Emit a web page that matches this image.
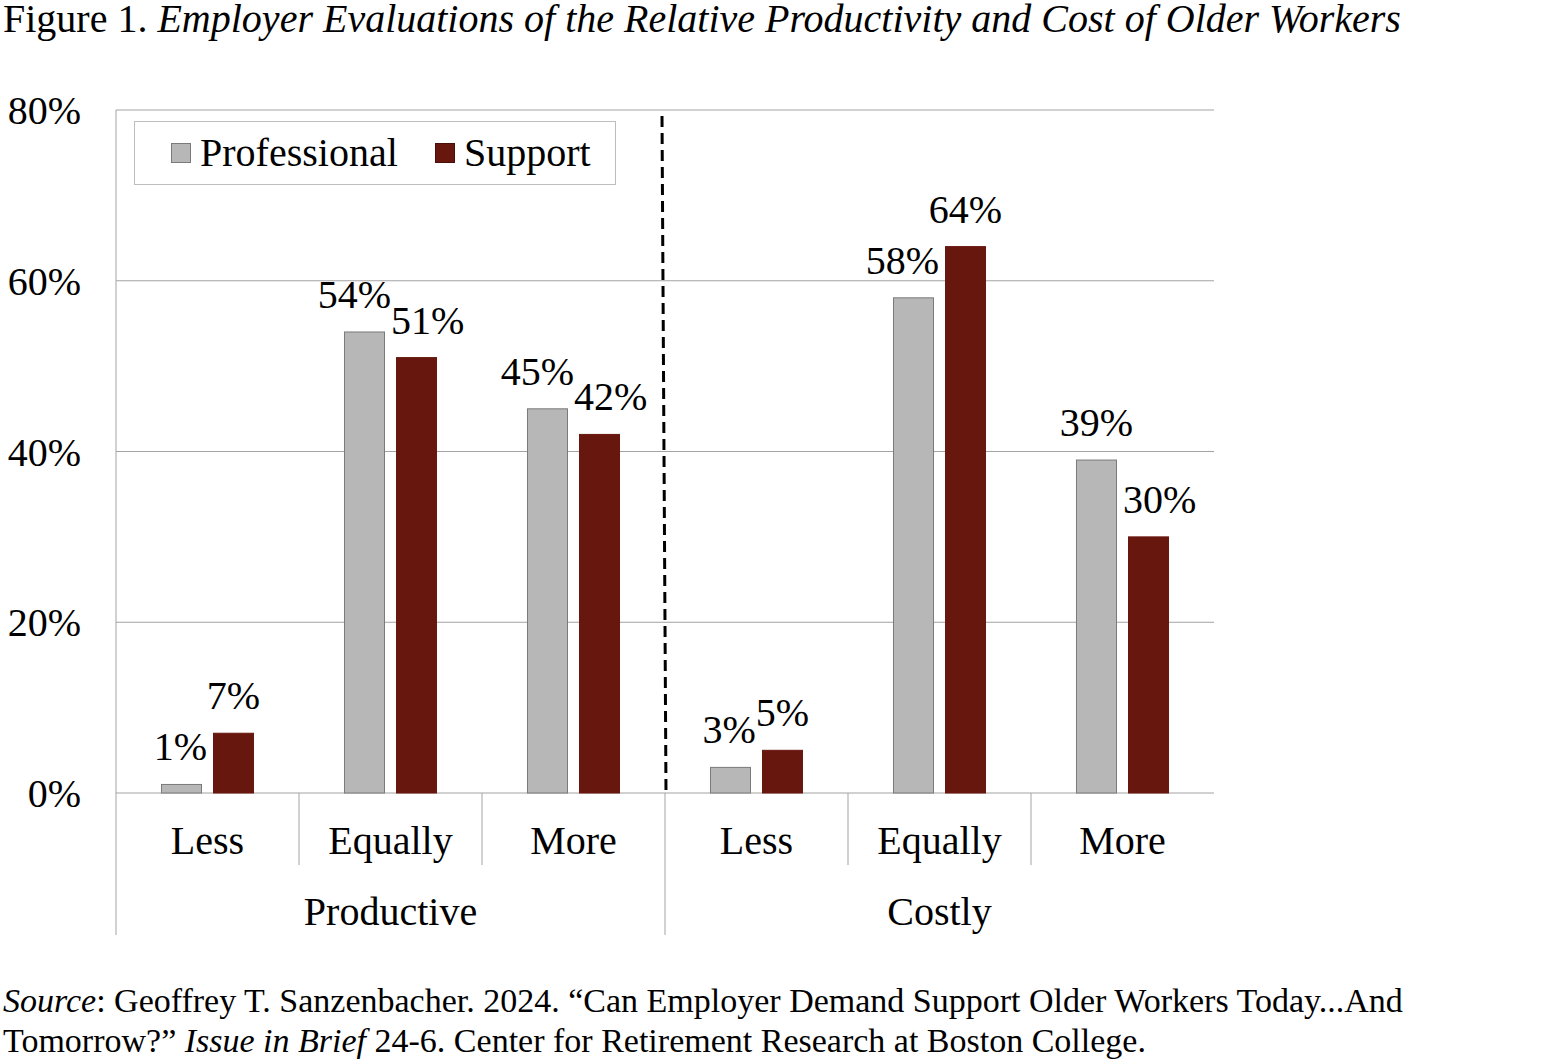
<!DOCTYPE html>
<html>
<head>
<meta charset="utf-8">
<script src="https://cdn.jsdelivr.net/npm/d3@7"></script>
<style>
  body { margin: 0; background: #fff; }
  svg { display: block; font-family: "Liberation Serif", "Times New Roman", serif; }
</style>
</head>
<body>
<div id="chart"></div>
<script>
// Dados
const groups = ["Productive", "Costly"];
const levels = ["Less", "Equally", "More"];
const series = ["Professional", "Support"];
const professional = [1, 54, 45, 3, 58, 39];
const support = [7, 51, 42, 5, 64, 30];
const yTicks = [0, 20, 40, 60, 80];

const width = 1568;
const height = 1064;
const margin = { left: 116, right: 354, top: 110, bottom: 271 };
const fs = 40;

const colors = { Professional: "#b7b7b7", Support: "#68170f" };
const strokes = { Professional: "#7a7a7a", Support: "#68170f" };

const svg = d3
  .select("#chart")
  .append("svg")
  .attr("width", width)
  .attr("height", height);

// Título
const title = svg.append("text").attr("x", 3).attr("y", 32).attr("font-size", 40);
title.append("tspan").text("Figure 1. ");
title
  .append("tspan")
  .attr("font-style", "italic")
  .text("Employer Evaluations of the Relative Productivity and Cost of Older Workers");

// Escalas
const cats = [];
groups.forEach((g) => levels.forEach((l) => cats.push(g + "|" + l)));

const x0 = d3
  .scaleBand()
  .domain(cats)
  .range([margin.left, width - margin.right])
  .padding(0);

const x1 = d3
  .scaleBand()
  .domain(series)
  .range([0, x0.bandwidth()])
  .paddingInner(11 / 52)
  .paddingOuter(0.865);

const y = d3
  .scaleLinear()
  .domain([0, 80])
  .range([height - margin.bottom, margin.top]);

const y0 = y(0);

// Grade
svg
  .append("g")
  .selectAll("line")
  .data(yTicks)
  .join("line")
  .attr("x1", margin.left)
  .attr("x2", width - margin.right)
  .attr("y1", (d) => y(d))
  .attr("y2", (d) => y(d))
  .attr("stroke", "#a3a3a3")
  .attr("stroke-width", 1);

// Eixo y (linha vertical esquerda)
svg
  .append("line")
  .attr("x1", margin.left)
  .attr("x2", margin.left)
  .attr("y1", y(80))
  .attr("y2", 935)
  .attr("stroke", "#a3a3a3");

// Rótulos y
svg
  .append("g")
  .selectAll("text")
  .data(yTicks)
  .join("text")
  .attr("x", 81)
  .attr("y", (d) => y(d))
  .attr("dy", "0.35em")
  .attr("text-anchor", "end")
  .attr("font-size", fs)
  .text((d) => d + "%");

// Separadores das categorias
const sepX = cats.slice(1).map((c) => x0(c));
svg
  .append("g")
  .selectAll("line")
  .data(sepX)
  .join("line")
  .attr("x1", (d) => d)
  .attr("x2", (d) => d)
  .attr("y1", y0)
  .attr("y2", (d, i) => (i === 2 ? 935 : 865))
  .attr("stroke", "#a3a3a3");

// Linha tracejada entre grupos
const midX = x0(cats[3]);
svg
  .append("line")
  .attr("x1", midX - 3)
  .attr("x2", midX + 1)
  .attr("y1", y(80) + 6)
  .attr("y2", y0)
  .attr("stroke", "#000")
  .attr("stroke-width", 3)
  .attr("stroke-dasharray", "11 6");

// Barras
const bars = [];
cats.forEach((c, i) => {
  bars.push({ cat: c, s: "Professional", v: professional[i], idx: i });
  bars.push({ cat: c, s: "Support", v: support[i], idx: i });
});

svg
  .append("g")
  .selectAll("rect")
  .data(bars)
  .join("rect")
  .attr("x", (d) => x0(d.cat) + x1(d.s) + 0.5)
  .attr("y", (d) => y(d.v))
  .attr("width", x1.bandwidth() - 1)
  .attr("height", (d) => y0 - y(d.v))
  .attr("fill", (d) => colors[d.s])
  .attr("stroke", (d) => strokes[d.s])
  .attr("stroke-width", 1);

// Rótulos de valor, com ajuste para evitar sobreposição
const labelG = svg.append("g").attr("font-size", fs).attr("text-anchor", "middle");
cats.forEach((c, i) => {
  const items = series.map((s, k) => {
    const v = k === 0 ? professional[i] : support[i];
    const bx = x0(c) + x1(s);
    const t = labelG.append("text").text(v + "%");
    const w = t.node().getComputedTextLength();
    return { t, v, bx, bw: x1.bandwidth(), w, cx: bx + x1.bandwidth() / 2, base: y(v) - 24 };
  });
  const [p, s] = items;
  const tall = p.v >= s.v ? p : s;
  const short = tall === p ? s : p;
  // rótulo da barra menor não pode cobrir a barra maior
  if (short.base > y(tall.v)) {
    if (short === s && short.cx - short.w / 2 < tall.bx + tall.bw + 6) {
      short.cx = tall.bx + tall.bw + 6 + short.w / 2;
    } else if (short === p && short.cx + short.w / 2 > tall.bx - 6) {
      short.cx = tall.bx - 6 - short.w / 2;
    }
  }
  // rótulos não podem se sobrepor: empurra o da esquerda
  if (Math.abs(p.base - s.base) < 29 && p.cx + p.w / 2 > s.cx - s.w / 2) {
    p.cx = s.cx - s.w / 2 - p.w / 2;
  }
  items.forEach((d) => d.t.attr("x", d.cx).attr("y", d.base));
});

// Rótulos das categorias
svg
  .append("g")
  .selectAll("text")
  .data(cats)
  .join("text")
  .attr("x", (d) => x0(d) + x0.bandwidth() / 2)
  .attr("y", 854)
  .attr("text-anchor", "middle")
  .attr("font-size", fs)
  .text((d) => d.split("|")[1]);

svg
  .append("g")
  .selectAll("text")
  .data(groups)
  .join("text")
  .attr("x", (g, i) => (x0(cats[i * 3]) + x0(cats[i * 3 + 2]) + x0.bandwidth()) / 2)
  .attr("y", 925)
  .attr("text-anchor", "middle")
  .attr("font-size", fs)
  .text((d) => d);

// Legenda
const legend = svg.append("g");
legend
  .append("rect")
  .attr("x", 134.5)
  .attr("y", 121.5)
  .attr("width", 481)
  .attr("height", 63)
  .attr("fill", "#fff")
  .attr("stroke", "#bdbdbd");
const legX = [171, 435];
series.forEach((s, i) => {
  legend
    .append("rect")
    .attr("x", legX[i] + 0.5)
    .attr("y", 143.5)
    .attr("width", 19)
    .attr("height", 19)
    .attr("fill", colors[s])
    .attr("stroke", strokes[s] === colors[s] ? "#4a0f09" : strokes[s]);
  legend
    .append("text")
    .attr("x", legX[i] + 29)
    .attr("y", 166)
    .attr("font-size", fs)
    .text(s);
});

// Fonte
const src = svg.append("g").attr("font-size", 34);
const l1 = src.append("text").attr("x", 3).attr("y", 1012);
l1.append("tspan").attr("font-style", "italic").text("Source");
l1.append("tspan").text(": Geoffrey T. Sanzenbacher. 2024. \u201CCan Employer Demand Support Older Workers Today...And");
const l2 = src.append("text").attr("x", 3).attr("y", 1052);
l2.append("tspan").text("Tomorrow?\u201D ");
l2.append("tspan").attr("font-style", "italic").text("Issue in Brief");
l2.append("tspan").text(" 24-6. Center for Retirement Research at Boston College.");
</script>
</body>
</html>
